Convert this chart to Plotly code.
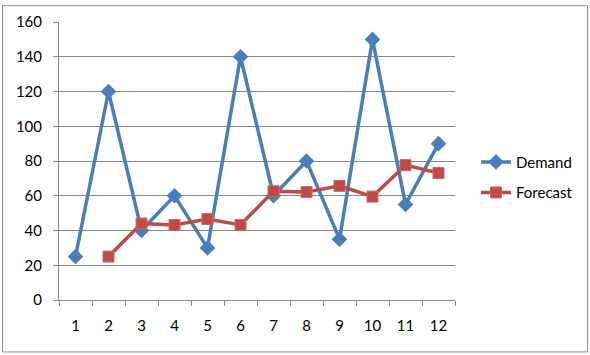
import plotly.graph_objects as go

periods = ["1", "2", "3", "4", "5", "6", "7", "8", "9", "10", "11", "12"]
demand = [25, 120, 40, 60, 30, 140, 60, 80, 35, 150, 55, 90]
forecast = [None, 25, 44, 43.2, 46.6, 43.2, 62.6, 62.1, 65.7, 59.5, 77.6, 73.1]
y_ticks = [0, 20, 40, 60, 80, 100, 120, 140, 160]

BLUE = "#4A7EBB"
RED = "#BE4B48"
GRID = "#878787"
FONT = "Lato"

fig = go.Figure()
fig.add_trace(go.Scatter(
    x=periods, y=demand, name="Demand", mode="lines+markers",
    legendgroup="d",
    line=dict(color=BLUE, width=3.5),
    marker=dict(symbol="diamond", size=12, color=BLUE, line=dict(color=BLUE, width=0)),
))
fig.add_trace(go.Scatter(
    x=periods, y=forecast, name="Forecast", mode="lines+markers",
    legendgroup="f",
    line=dict(color=RED, width=3.5),
    marker=dict(symbol="square", size=11, color=RED, line=dict(color="#C96A67", width=1)),
))

W, H = 590, 355
L, R, T, B = 59, 455, 19, 300
pw, ph = R - L, B - T

def px(xp):
    return (xp - L) / pw

def py(yp):
    return (B - yp) / ph

fig.add_shape(type="rect", xref="paper", yref="paper",
              x0=px(2.5), x1=px(587.5), y0=py(352.5), y1=py(2.5),
              line=dict(color="#8C8C8C", width=1), layer="below")

fig.update_layout(
    width=W, height=H,
    margin=dict(l=L, r=W - R, t=T, b=H - B),
    paper_bgcolor="white", plot_bgcolor="white",
    font=dict(family=FONT, size=15, color="#000000"),
    showlegend=True,
    legend=dict(x=px(476), y=py(144), xanchor="left", yanchor="top",
                tracegroupgap=8, font=dict(size=15),
                bgcolor="rgba(0,0,0,0)", itemwidth=30),
    xaxis=dict(type="category", categoryorder="array", categoryarray=periods,
               showgrid=False, showline=True, linecolor=GRID, linewidth=1,
               ticks="outside", ticklen=5, tickcolor=GRID, tickson="boundaries",
               ticklabelstandoff=12, range=[-0.5, 11.5], zeroline=False),
    yaxis=dict(range=[0, 160], tickvals=y_ticks, showgrid=True, gridcolor=GRID,
               gridwidth=1, showline=True, linecolor=GRID, linewidth=1,
               ticks="outside", ticklen=5, tickcolor=GRID,
               ticklabelstandoff=8, zeroline=False),
)

fig.write_html("out.html")
